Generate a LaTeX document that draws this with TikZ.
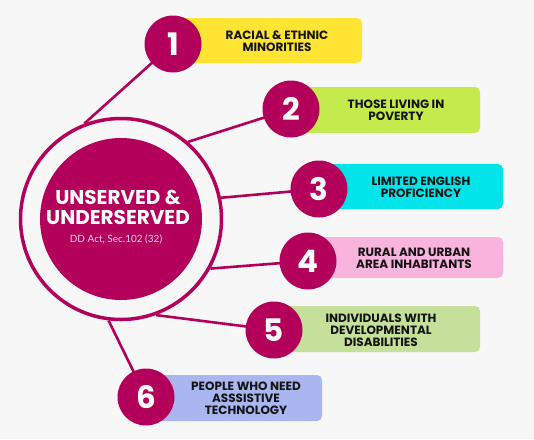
\documentclass[tikz,border=0pt]{standalone}
\usepackage{fontspec}
\setmainfont{Lato}
\newfontfamily\heavy{Poppins}
\definecolor{bg}{HTML}{F7F7F7}
\definecolor{mag}{HTML}{B3005A}
\definecolor{cyel}{HTML}{FFE433}
\definecolor{clime}{HTML}{C4EA4E}
\definecolor{ccyan}{HTML}{00E4EA}
\definecolor{cpink}{HTML}{F8B4DC}
\definecolor{cgreen}{HTML}{C4E09B}
\definecolor{clav}{HTML}{A9B6EF}
\definecolor{ink}{HTML}{141414}
\definecolor{subt}{HTML}{F6D2E4}
\tikzset{
  conn/.style={draw=mag, line width=2.6pt},
  numc/.style={circle, fill=mag, minimum size=57pt, inner sep=0pt, text=white, font=\heavy\fontsize{31}{31}\selectfont\bfseries},
  boxx/.style={rounded corners=5pt},
  lab/.style={align=center, text=ink, font=\heavy\fontsize{12}{12.2}\selectfont\bfseries, inner sep=0pt}
}
\begin{document}
\begin{tikzpicture}[x=1pt,y=-1pt]
\useasboundingbox[fill=bg] (0,0) rectangle (534,439);
% hub
\node[circle, draw=mag, line width=3.5pt, minimum size=201pt, inner sep=0pt] (ring) at (121,219) {};
\node[circle, fill=mag, minimum size=162pt, inner sep=0pt] (hub) at (121,219) {};
\node[text=white, align=center, font=\heavy\fontsize{20}{20}\selectfont\bfseries, inner sep=0pt] (title) at (118,207) {UNSERVED \&\\UNDERSERVED};
\node[text=subt, font=\fontsize{10}{11}\selectfont, inner sep=0pt] (sub) at (116,239) {DD Act, Sec.102 (32)};
% centres of number circles
\coordinate (p1) at (173,44);
\coordinate (p2) at (291,109);
\coordinate (p3) at (319,189);
\coordinate (p4) at (308,261);
\coordinate (p5) at (274,330);
\coordinate (p6) at (146,397);
% connectors
\draw[conn] (ring.111) -- (p1);
\draw[conn] (ring.49) -- (p2);
\draw[conn] (ring.12) -- (p3);
\draw[conn] (ring.-29) -- (p4);
\draw[conn] (ring.-70) -- (p5);
\draw[conn] (ring.-97) -- (p6);
% boxes
\fill[cyel, boxx] (173,18) rectangle (362,63);
\fill[clime, boxx] (291,87) rectangle (480,133);
\fill[ccyan, boxx] (319,164) rectangle (503,209);
\fill[cpink, boxx] (308,237) rectangle (503,278);
\fill[cgreen, boxx] (274,306) rectangle (480,352);
\fill[clav, boxx] (146,375) rectangle (322,421);
% labels
\node[lab] (t1) at (277,41) {RACIAL \& ETHNIC\\MINORITIES};
\node[lab] (t2) at (396,110) {THOSE LIVING IN\\POVERTY};
\node[lab] (t3) at (421,187) {LIMITED ENGLISH\\PROFICIENCY};
\node[lab] (t4) at (414,258) {RURAL AND URBAN\\AREA INHABITANTS};
\node[lab] (t5) at (381,330) {INDIVIDUALS WITH\\DEVELOPMENTAL\\DISABILITIES};
\node[lab] (t6) at (246,398) {PEOPLE WHO NEED\\ASSSISTIVE\\TECHNOLOGY};
% number circles
\node[numc] (n1) at (p1) {1};
\node[numc] (n2) at (p2) {2};
\node[numc] (n3) at (p3) {3};
\node[numc] (n4) at (p4) {4};
\node[numc] (n5) at (p5) {5};
\node[numc] (n6) at (p6) {6};
\end{tikzpicture}
\end{document}
